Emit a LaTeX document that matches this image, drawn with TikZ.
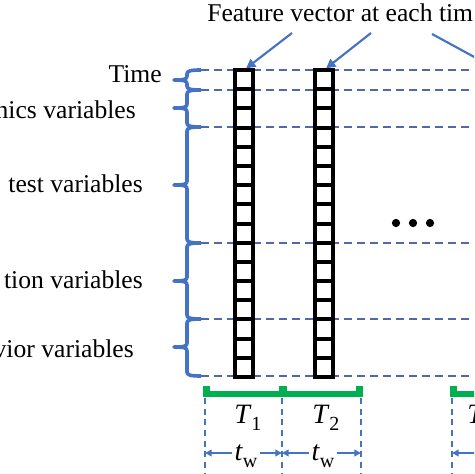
\documentclass[tikz,border=0pt]{standalone}
\usepackage{fontspec}
\setmainfont{Liberation Serif}
\usetikzlibrary{arrows.meta,calc}
\definecolor{bl}{HTML}{4472C4}
\definecolor{dl}{HTML}{5068AC}
\definecolor{gr}{HTML}{00B050}
\newcommand\mysub[1]{\raisebox{-0.28em}{\fontsize{15pt}{15pt}\selectfont #1}}
\begin{document}
\begin{tikzpicture}[x=0.75pt,y=-0.75pt,
  txt/.style={font=\fontsize{19.2pt}{22pt}\selectfont, inner sep=0pt},
  mtxt/.style={font=\fontsize{21pt}{24pt}\selectfont, inner sep=0pt},
  brc/.style={bl, line width=2.7pt, line join=round},
  hd/.style={dl, line width=1.5pt, dash pattern=on 6pt off 3.75pt},
  vd/.style={bl, line width=1.1pt, dash pattern=on 4.5pt off 3.5pt},
  colbox/.style={draw, line width=3pt, minimum width=13.5pt, minimum height=230.25pt, inner sep=0pt, outer sep=0pt},
  cell/.style={line width=3pt},
  arr/.style={bl, line width=1.6pt, -{Triangle[length=7pt,width=7pt]}},
  sarr/.style={bl, line width=1.4pt, -{Triangle[length=5pt,width=5pt]}},
  dot/.style={circle, fill=black, inner sep=0pt, minimum size=6.2pt}]
\useasboundingbox (0,0) rectangle (474,474);
\clip (0,0) rectangle (474,474);

% title
\node[txt, anchor=base west] (title) at (207,22) {Feature vector at each tim};

% labels
\node[txt, anchor=base east] (l1) at (162,83) {Time};
\node[txt, anchor=base east] (l2) at (136,118) {nics variables};
\node[txt, anchor=base east] (l3) at (143,192) {test variables};
\node[txt, anchor=base east] (l4) at (143,288) {tion variables};
\node[txt, anchor=base east] (l5) at (134,357) {vior variables};

% braces
\foreach \a/\m/\b in {70/80/90, 90/108/127, 127/185/243, 243/281/319, 319/347/376}{
  \draw[brc] (201,\a) .. controls (190,\a) and (187,\a+1) .. (187,\a+4)
    -- (187,\m-4) .. controls (187,\m-1) and (185,\m) .. (174,\m)
    .. controls (185,\m) and (187,\m+1) .. (187,\m+4)
    -- (187,\b-4) .. controls (187,\b-1) and (190,\b) .. (201,\b);
}

% horizontal dashed lines
\foreach \y in {70,90,127,243,319,376}{
  \draw[hd] (201,\y) -- (474,\y);
}

% columns
\node[colbox] (col1) at (244,223.5) {};
\node[colbox] (col2) at (324,223.5) {};
\foreach \c in {col1,col2}{
  \foreach \i in {1,...,15}{
    \draw[cell] ($(\c.north west)!\i/16!(\c.south west)$) -- ($(\c.north east)!\i/16!(\c.south east)$);
  }
}

% arrows from title
\coordinate (s1) at (292,33);
\coordinate (s2) at (371,33);
\coordinate (s3) at (432,34);
\coordinate (e3) at (500,71);
\draw[arr, shorten >=2pt] (s1) -- (col1.north);
\draw[arr, shorten >=2pt] (s2) -- (col2.north);
\draw[arr] (s3) -- (e3);

% dots
\node[dot] (d1) at (396,223) {};
\node[dot] (d2) at (413,223) {};
\node[dot] (d3) at (430,223) {};

% green windows
\fill[gr] (203,391) rectangle (363,397);
\fill[gr] (203,386) rectangle (210,391);
\fill[gr] (279,386) rectangle (287,391);
\fill[gr] (356,386) rectangle (363,391);
\fill[gr] (450,391) rectangle (480,397);
\fill[gr] (450,386) rectangle (457,391);

% vertical dashed lines
\coordinate (v1) at (205,453);
\coordinate (v2) at (282,453);
\coordinate (v3) at (361,453);
\coordinate (v4) at (452,453);
\foreach \x in {205,282,361,452}{
  \draw[vd] (\x,398) -- (\x,476);
}

% window labels
\node[mtxt, anchor=base west] (T1) at (234,423) {\textit{T}\mysub{1}};
\node[mtxt, anchor=base west] (T2) at (312,423) {\textit{T}\mysub{2}};
\node[mtxt, anchor=base west] (T3) at (467,423) {\textit{T}};

\node[mtxt, anchor=base, inner xsep=1.5pt] (tw1) at (246,460) {\textit{t}\mysub{w}};
\node[mtxt, anchor=base, inner xsep=1.5pt] (tw2) at (323,460) {\textit{t}\mysub{w}};
\draw[sarr] (tw1.west |- v1) -- (v1);
\draw[sarr] (tw1.east |- v2) -- (v2);
\draw[sarr] (tw2.west |- v2) -- (v2);
\draw[sarr] (tw2.east |- v3) -- (v3);
\coordinate (r4) at (480,453);
\draw[sarr] (r4) -- (v4);
\end{tikzpicture}
\end{document}
